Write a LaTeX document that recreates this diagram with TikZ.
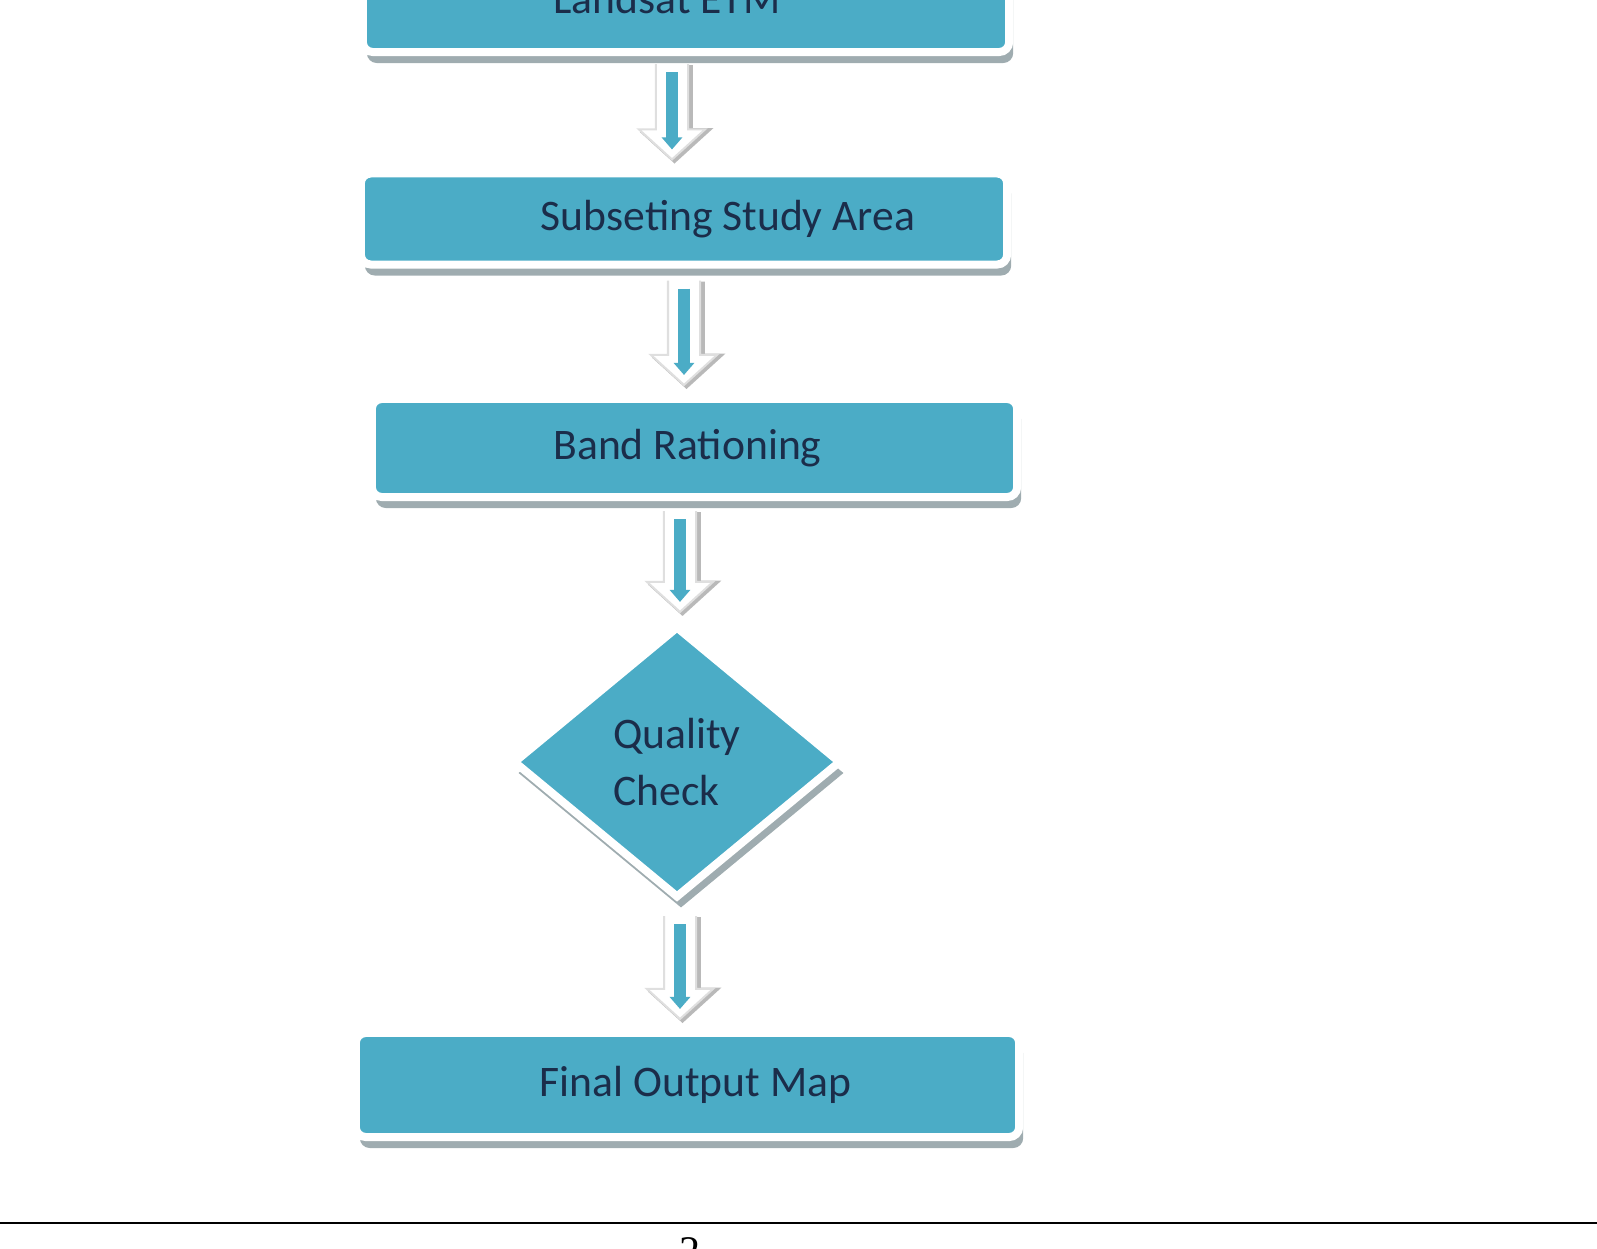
\documentclass[tikz,border=0pt]{standalone}
\usepackage{fontspec}
\setmainfont{Carlito}
\newfontfamily\pagefont{Liberation Serif}
\usetikzlibrary{shapes.geometric,shadows,arrows.meta}
\definecolor{boxblue}{HTML}{4BACC6}
\definecolor{boxtext}{HTML}{1B2D4A}
\definecolor{shadowgray}{HTML}{8E9EA2}
\tikzset{
  boxshadow/.style={drop shadow={shadow xshift=0.04cm, shadow yshift=-0.11cm, fill=shadowgray, opacity=0.85}},
  stepbox/.style={rectangle, rounded corners=0.1cm, fill=boxblue, draw=white, line width=0.08cm,
    minimum width=6.46cm, inner sep=0pt, text=boxtext, font=\fontsize{12.4}{16.2}\selectfont, boxshadow},
  checkbox/.style={diamond, fill=boxblue, draw=white, line width=0.08cm, minimum width=3.28cm,
    minimum height=2.72cm, inner sep=0pt, align=left, text=boxtext, font=\fontsize{12.4}{16.2}\selectfont, boxshadow},
  arrowedge/.style={draw=gray!55, line width=0.045cm, line join=miter, transform canvas={xshift=0.025cm, yshift=-0.01cm}},
  arrowbody/.style={fill=white, draw=gray!25, line width=0.02cm, line join=miter},
  arrowcore/.style={line width=0.12cm, draw=boxblue, -{Triangle[width=0.2cm,length=0.12cm]},
    shorten <=0.08cm, shorten >=0.1cm}
}
\begin{document}
\begin{tikzpicture}[x=0.01cm, y=-0.01cm]
\useasboundingbox (0,0) rectangle (1597,1249);
% flow steps
\node[stepbox, minimum height=1.06cm] (land) at (686,-1) {Landsat ETM\hspace*{0.38cm}};
\node[stepbox, minimum height=0.91cm] (sub) at (684,219) {\hspace*{0.88cm}Subseting Study Area};
\node[stepbox, minimum height=0.98cm, minimum width=6.45cm] (band) at (694.5,448) {Band Rationing\hspace*{0.14cm}};
\node[checkbox] (qc) at (677,762) {Quality\\Check};
\node[stepbox, minimum height=1.04cm, minimum width=6.63cm] (final) at (687.5,1085) {\hspace*{0.16cm}Final Output Map};
% block arrows
\foreach \a/\b/\dx/\gap in {land/sub/-0.14/0.08, sub/band/0/0.12, band/qc/-0.145/0.1, qc/final/0.03/0.14}{
  \coordinate (s) at ([xshift=\dx cm, yshift=-\gap cm]\a.south);
  \coordinate (e) at ([yshift=0.1cm]s |- \b.north);
  \draw[arrowedge] ([xshift=0.16cm]s) -- ([xshift=0.16cm, yshift=0.3cm]e)
    -- ([xshift=0.33cm, yshift=0.3cm]e) -- (e) -- ([xshift=-0.33cm, yshift=0.3cm]e);
  \draw[arrowbody] ([xshift=-0.16cm]s) -- ([xshift=-0.16cm, yshift=0.3cm]e)
    -- ([xshift=-0.33cm, yshift=0.3cm]e) -- (e) -- ([xshift=0.33cm, yshift=0.3cm]e)
    -- ([xshift=0.16cm, yshift=0.3cm]e) -- ([xshift=0.16cm]s);
  \draw[arrowcore] (s) -- (e);
}
% page foot
\draw[line width=0.027cm] (0,1223) -- (1597,1223);
\node[font=\pagefont\fontsize{12}{14}\selectfont, anchor=north, inner sep=0pt] (pagenum) at (690,1237) {2};
\end{tikzpicture}
\end{document}
